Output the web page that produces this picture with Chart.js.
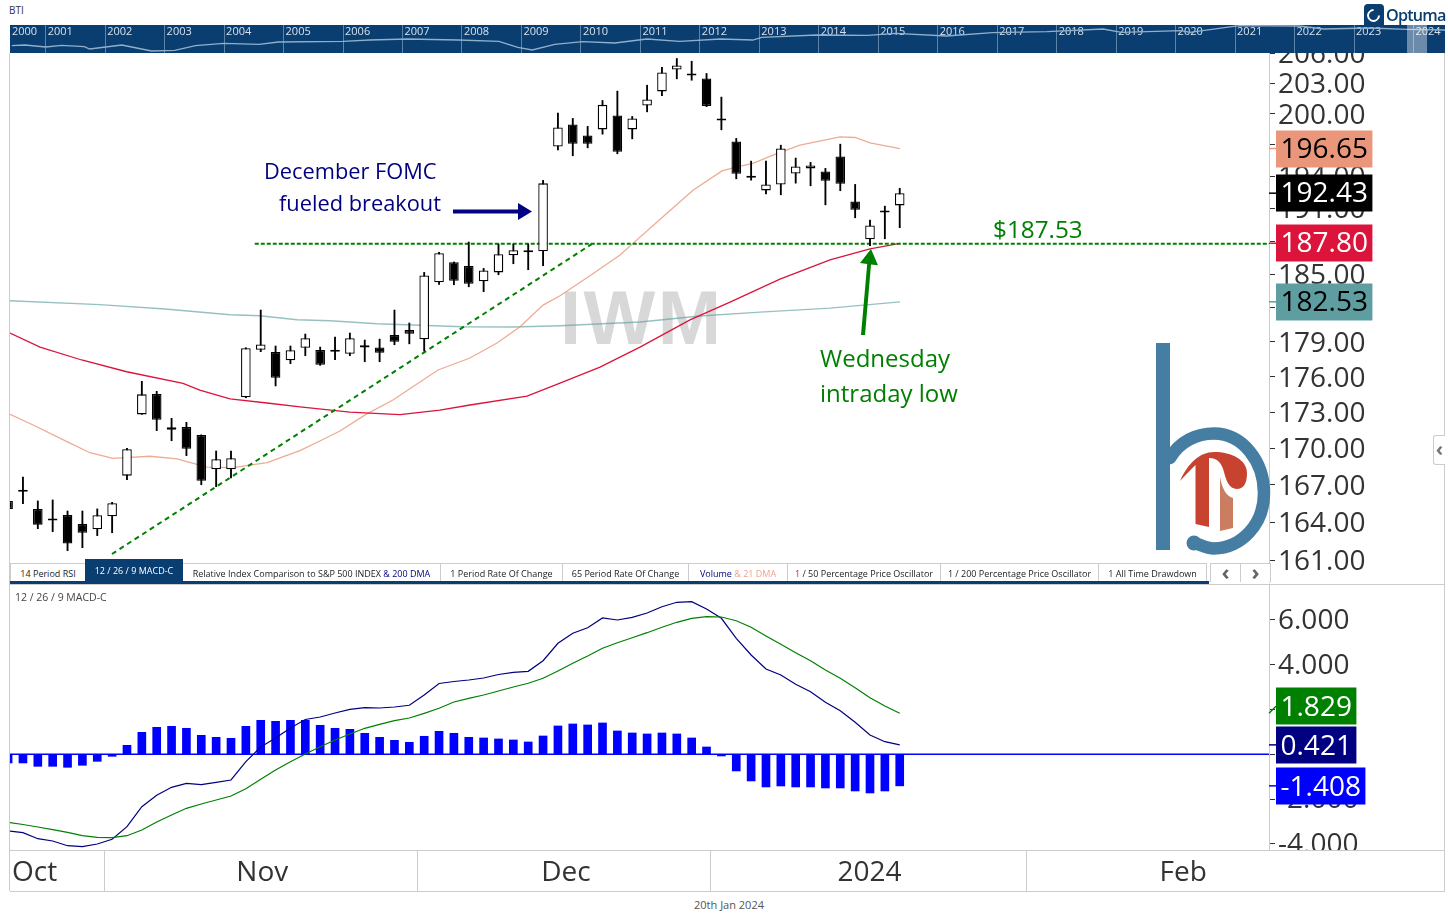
<!DOCTYPE html>
<html>
<head>
<meta charset="utf-8">
<title>BTI</title>
<script src="https://cdn.jsdelivr.net/npm/chart.js@4/dist/chart.umd.min.js"></script>
<style>
    html, body { margin: 0; padding: 0; background: #fff; }
    #page { position: relative; width: 1448px; height: 924px; overflow: hidden; font-family: "Open Sans", sans-serif; color: #333; }
    #page canvas { position: absolute; left: 10px; z-index: 2; }
    .frame { position: absolute; background: #ccc; z-index: 3; }
    .note { position: absolute; line-height: 30px; white-space: nowrap; z-index: 4; }
    #watermark { position: absolute; left: 560px; top: 275px; font: bold 76px "Liberation Sans", sans-serif; letter-spacing: 2.5px; line-height: 86px; color: #d8d8d8; z-index: 1; }
    #tabs div { position: absolute; top: 563px; height: 18px; line-height: 19px; font-size: 9px; text-align: center; white-space: nowrap; color: #222; background: #fff; border: 1px solid #ccc; border-bottom: 0; box-sizing: content-box; z-index: 5; }
    #tabs div.active { top: 559px; height: 24px; line-height: 22px; background: #0a3d70; border-color: #0a3d70; color: #fff; z-index: 6; }
    #tabline { position: absolute; left: 10px; top: 581px; width: 1199px; height: 3px; background: #0a3d70; z-index: 5; }
    #overlay { position: absolute; left: 0; top: 0; z-index: 4; }
</style>
</head>
<body>
<div id="page">
    <div style="position:absolute;left:9px;top:4px;font-size:10px;line-height:13px;">BTI</div>

    <div style="position:absolute;left:10px;top:25px;width:1435px;height:28px;background:#0a3d70;"></div>
    <canvas id="overviewChart" width="1435" height="28" style="top:25px"></canvas>
    <div style="position:absolute;left:1407px;top:25px;width:20px;height:28px;background:rgba(255,255,255,0.4);z-index:3;"></div>

    <div style="position:absolute;left:1364px;top:4px;width:20px;height:21px;border-radius:4px 4px 0 0;background:#0a3d70;z-index:3;">
        <div style="position:absolute;left:3px;top:5px;width:9px;height:9px;border:2.5px solid #fff;border-right-color:transparent;border-radius:50%;transform:rotate(-45deg);"></div>
    </div>
    <div style="position:absolute;left:1386px;top:3px;font-size:16.2px;line-height:24px;font-weight:600;letter-spacing:-0.8px;color:#0a3d70;z-index:3;">Optuma</div>

    <div id="watermark">IWM</div>
    <canvas id="priceChart" width="1435" height="530" style="top:53px"></canvas>

    <div class="note" style="left:264px;top:156px;font-size:21.8px;color:#000080;">December FOMC</div>
    <div class="note" style="left:279px;top:188px;font-size:21.8px;color:#000080;">fueled breakout</div>
    <div class="note" style="left:993px;top:214px;font-size:24.3px;color:#008000;">$187.53</div>
    <div class="note" style="left:820px;top:343px;font-size:24px;color:#008000;">Wednesday</div>
    <div class="note" style="left:820px;top:378px;font-size:24px;color:#008000;">intraday low</div>

    <div id="tabs"></div>
    <div id="tabline"></div>

    <div style="position:absolute;left:15px;top:590px;font-size:10.5px;line-height:14px;color:#444;z-index:3;">12 / 26 / 9 MACD-C</div>
    <canvas id="macdChart" width="1435" height="265" style="top:585px"></canvas>
    <canvas id="dateChart" width="1435" height="41" style="top:851px"></canvas>

    <div class="frame" style="left:9px;top:53px;width:1px;height:838px;"></div>
    <div class="frame" style="left:1444px;top:53px;width:1px;height:838px;"></div>
    <div class="frame" style="left:10px;top:584px;width:1435px;height:1px;"></div>
    <div class="frame" style="left:10px;top:850px;width:1435px;height:1px;"></div>
    <div class="frame" style="left:10px;top:891px;width:1435px;height:1px;"></div>

    <div style="position:absolute;left:1433px;top:435px;width:11px;height:28px;background:#fff;border:1px solid #ccc;border-right:0;border-radius:3px 0 0 3px;font-size:20px;font-weight:700;line-height:25px;text-align:center;color:#777;z-index:4;">‹</div>

    <div style="position:absolute;left:0;width:1458px;top:898px;font-size:11px;line-height:14px;text-align:center;color:#555;">20th Jan 2024</div>

    <svg id="overlay" width="1448" height="924" viewBox="0 0 1448 924">
        <path d="M453 209.5 H518 V203 L532 211.5 L518 220 V213.5 H453 Z" fill="#000080"/>
        <path d="M861 335 L867.2 264 L860 263 L871 249 L878 265.3 L871 264.6 L865 335 Z" fill="#008000"/>
        <rect x="1156" y="343" width="14" height="207" fill="#467da2"/>
        <path d="M1170 458 C1180 441 1197 433.5 1214 433.5 C1243 433.5 1264 462 1264 493 C1264 525 1241 548 1214 548.5 C1205 548.5 1200 544 1194 543" fill="none" stroke="#467da2" stroke-width="12.5" stroke-linecap="round"/>
        <circle cx="1194" cy="543" r="7.5" fill="#467da2"/>
        <path d="M1180 481 C1188 463 1200 452 1214 452 C1232 452 1247 460 1247 473 C1247 484 1243 489 1237 489 C1229 489 1226 480 1224 472 C1222 464 1218 458 1209 458 V527 L1195.5 524 V465 C1190 470 1185 476 1180 481 Z" fill="#c8432f"/>
        <path d="M1220 477 C1222 488 1226 496 1233 498 V528 L1220 531 Z" fill="#cb7d61"/>
    </svg>
</div>

<script>
// daily bars, oldest first
const candleOpen = [165.69,166.50,165.05,164.16,164.56,163.84,163.42,164.46,167.74,172.81,174.53,171.53,171.75,171.09,168.26,168.26,174.25,178.33,178.13,177.41,178.50,178.30,178.22,177.98,178.53,178.53,179.61,180.04,179.23,184.27,186.07,185.73,184.36,185.16,186.70,187.02,187.07,196.85,198.97,197.91,198.49,199.84,198.49,200.81,202.19,204.36,203.76,203.46,199.45,197.33,194.00,192.69,193.25,194.28,194.76,194.47,195.90,191.66,188.16,190.73,191.29];
const candleHigh = [165.90,167.63,165.69,165.77,164.88,164.88,165.05,165.58,169.98,175.61,174.76,172.48,172.14,171.10,169.76,169.76,178.50,181.80,178.65,178.65,179.69,178.56,179.43,179.78,179.17,179.25,181.80,180.66,185.16,186.98,186.10,187.91,185.52,187.73,187.73,187.73,193.63,200.06,199.55,198.78,201.30,202.22,199.74,202.80,204.56,205.45,205.18,203.96,201.63,197.62,195.45,195.45,196.97,195.74,195.33,194.76,197.07,193.25,189.93,191.22,192.89];
const candleLow = [164.90,165.47,163.47,163.23,161.73,161.97,162.92,163.15,167.41,172.81,171.45,170.61,169.38,167.00,166.84,167.55,174.21,178.16,175.22,177.12,177.81,176.98,177.47,177.81,177.29,177.29,178.76,178.84,178.22,184.09,184.05,183.87,183.43,184.95,185.94,185.40,185.76,196.53,195.96,196.72,198.03,196.15,197.58,200.19,201.76,203.43,203.29,200.70,198.45,193.78,193.65,192.37,192.28,193.37,193.12,191.34,192.66,190.14,187.57,188.21,189.23];
const candleClose = [165.05,166.44,163.79,164.12,162.29,163.15,164.54,165.50,169.90,174.50,172.36,171.73,169.95,167.33,169.08,169.16,178.45,178.79,175.91,178.28,179.32,177.03,178.16,179.32,178.71,178.07,179.02,179.72,184.89,186.89,184.41,184.14,185.34,186.80,187.16,186.98,193.35,198.68,197.10,197.10,200.87,196.34,199.55,201.40,204.06,204.76,203.96,200.77,199.35,194.25,193.87,193.25,196.66,194.95,195.04,193.59,193.31,190.88,189.44,190.64,192.43];

// moving averages, read at the bar positions listed next to them
const ma21Bars = [0.13,1.68,3.96,5.51,7.06,9.55,11.37,13.38,15.13,17.42,19.64,20.98,22.33,24.0,25.9,28.93,31.08,32.9,34.45,36.0,37.14,39.03,41.18,42.05,44.07,46.09,48.04,49.05,50.13,51.47,53.29,55.98,56.99,58.0,60.02];
const ma21 = [172.81,171.92,170.53,169.62,169.16,169.33,169.11,168.43,168.39,168.80,169.79,170.59,171.42,172.75,174.02,176.58,177.61,178.91,180.33,182.24,183.07,184.74,186.73,187.79,190.24,192.71,194.53,194.91,195.23,196.02,196.97,197.77,197.71,197.19,196.65];
const ma50Bars = [0.13,2.15,4.95,7.98,11.77,12.9,14.93,17.42,19.64,23.0,26.37,29.06,31.08,34.92,37.14,39.83,42.52,45.89,48.58,51.94,55.31,58.0,60.02];
const ma50 = [179.78,178.56,177.44,176.43,175.44,174.87,174.12,173.77,173.44,173.00,172.79,173.17,173.60,174.36,175.46,176.83,178.56,180.93,182.51,184.56,186.28,187.28,187.80];
const ma200Bars = [0.13,6.18,10.56,14.93,16.95,19.44,21.66,24.82,27.72,30.61,33.98,37.14,42.52,46.56,50.6,55.31,60.02];
const ma200 = [182.63,182.28,181.89,181.39,181.30,180.95,180.86,180.60,180.46,180.33,180.31,180.42,180.75,181.27,181.62,181.97,182.53];

// drawn studies on the price panel
const levelBars = [16.6, 84.85];
const levelPrice = [187.76, 187.76];
const trendBars = [6.99, 39.27];
const trendPrice = [161.47, 187.72];

const priceTicks = [206,203,200,197,194,191,188,185,182,179,176,173,170,167,164,161];
const priceBadgeValues = [182.53, 196.65, 187.80, 192.43];
const priceBadgeFill = ['#5f9ea0', '#e9967a', '#dc143c', '#000000'];
const priceBadgeText = ['#000000', '#000000', '#ffffff', '#ffffff'];

// 12 / 26 / 9 MACD-C, one value per bar
const macdLine = [-3.424,-3.500,-3.768,-3.871,-4.080,-4.125,-4.004,-3.795,-3.232,-2.339,-1.830,-1.473,-1.295,-1.357,-1.250,-1.147,-0.330,0.326,0.728,1.174,1.554,1.665,1.844,2.009,2.080,2.067,2.112,2.188,2.647,3.161,3.250,3.317,3.406,3.563,3.661,3.705,4.179,4.955,5.402,5.652,6.085,5.996,6.116,6.308,6.589,6.786,6.813,6.487,6.071,5.179,4.433,3.808,3.540,3.125,2.795,2.321,1.946,1.429,0.862,0.563,0.421];
const signalLine = [-3.036,-3.134,-3.246,-3.366,-3.482,-3.634,-3.705,-3.723,-3.634,-3.379,-3.022,-2.710,-2.411,-2.219,-2.040,-1.862,-1.536,-1.116,-0.701,-0.330,0.013,0.339,0.638,0.906,1.161,1.339,1.500,1.621,1.830,2.054,2.335,2.500,2.647,2.826,3.004,3.170,3.393,3.719,4.063,4.388,4.732,4.982,5.205,5.429,5.670,5.893,6.071,6.143,6.129,5.964,5.670,5.281,4.911,4.536,4.179,3.763,3.393,2.973,2.527,2.156,1.829];
const macdHist = [-0.387,-0.387,-0.536,-0.536,-0.580,-0.491,-0.313,-0.089,0.402,0.982,1.205,1.250,1.161,0.848,0.759,0.714,1.250,1.518,1.473,1.518,1.518,1.295,1.161,1.116,0.938,0.759,0.625,0.536,0.804,1.027,0.938,0.759,0.729,0.685,0.640,0.550,0.818,1.265,1.354,1.310,1.399,1.042,0.952,0.908,0.952,0.908,0.729,0.327,-0.074,-0.744,-1.190,-1.458,-1.414,-1.458,-1.458,-1.503,-1.503,-1.637,-1.726,-1.637,-1.408];

const macdTicks = [6,4,2,0,-2,-4];
const macdBadgeValues = [1.829, 0.421, -1.408];
const macdBadgeFill = ['#008000', '#000080', '#0000ff'];
const macdBadgeNudge = [-7, 0, 0];

// date axis, in bar units
const monthLabels = ['Oct','Nov','Dec','2024','Feb'];
const monthCenters = [1.68, 17.02, 37.48, 57.93, 79.06];
const monthStarts = [6.39, 27.45, 47.23, 68.5];

// long term strip across the top
const overviewYears = [2000.41,2000.65,2001,2001.27,2001.65,2001.74,2002.28,2002.78,2003.17,2003.52,2003.99,2004.59,2004.91,2006,2006.45,2007.08,2007.94,2008.62,2008.94,2009.18,2009.56,2010.03,2010.57,2011.11,2011.66,2012.35,2012.89,2013.04,2013.96,2014.82,2015.29,2016.15,2016.92,2017.84,2018.78,2019.09,2020.09,2020.24,2021.07,2022.08,2022.49,2023.27,2023.89,2024.53];
const overviewLevel = [7.3,8,6,7.7,6.3,4,8,2,2.7,7.3,9.7,8.7,11,11.7,13,14,13,11.7,5.7,3,8.7,11.3,10,14,11.7,14,13,15.7,18,17.7,19.7,17,20.3,21.3,24,20.7,22.3,20.7,27.3,27,24,25,23.7,23];
const overviewTicks = [2000.4,2001,2002,2003,2004,2005,2006,2007,2008,2009,2010,2011,2012,2013,2014,2015,2016,2017,2018,2019,2020,2021,2022,2023,2024];

// tab strip
const tabLabels = ['14 Period RSI','12 / 26 / 9 MACD-C','Relative Index Comparison to S&amp;P 500 INDEX <span style="color:#000080">&amp; 200 DMA</span>','1 Period Rate Of Change','65 Period Rate Of Change','<span style="color:#000080">Volume</span> <span style="color:#f4a08a">&amp; 21 DMA</span>','<span style="color:#dc143c">1</span> / 50 Percentage Price Oscillator','1 / 200 Percentage Price Oscillator','1 All Time Drawdown'];
const tabEdges = [10,85,182,440,562,688,787,940,1098,1206];

const FONT = '"Open Sans", sans-serif';
const BAR_MIN = 0.128;
const BAR_MAX_PLOT = 84.85;
const BAR_MAX_FULL = 96.7;

Chart.defaults.animation = false;
Chart.defaults.responsive = false;
Chart.defaults.maintainAspectRatio = false;
Chart.defaults.devicePixelRatio = 1;
Chart.defaults.events = [];
Chart.defaults.plugins.legend.display = false;
Chart.defaults.plugins.tooltip.enabled = false;
Chart.defaults.font.family = FONT;

// the coloured last-value boxes on the right axis
const valueBadges = {
    id: 'valueBadges',
    afterDraw(chart, args, opts) {
        const ctx = chart.ctx;
        const scale = chart.scales.y;
        const axisX = chart.chartArea.right;
        ctx.save();
        ctx.font = '28px ' + FONT;
        ctx.textBaseline = 'middle';
        ctx.textAlign = 'left';
        opts.values.forEach((value, i) => {
            const y = scale.getPixelForValue(value);
            const boxY = y + (opts.nudge ? opts.nudge[i] : 0);
            const label = value.toFixed(opts.digits);
            const width = ctx.measureText(label).width + 9;
            ctx.strokeStyle = opts.fill[i];
            ctx.lineWidth = 1.5;
            ctx.beginPath();
            ctx.moveTo(axisX, y);
            ctx.lineTo(axisX + 7, boxY);
            ctx.stroke();
            ctx.fillStyle = opts.fill[i];
            ctx.fillRect(axisX + 7, Math.round(boxY) - 18.5, width, 37);
            ctx.fillStyle = opts.text ? opts.text[i] : '#ffffff';
            ctx.fillText(label, axisX + 11.5, Math.round(boxY) + opts.textDrop);
        });
        ctx.restore();
    }
};

function toPoints(bars, values) {
    return bars.map((bar, i) => ({ x: bar, y: values[i] }));
}

function lineSet(data, color, width, order, dash) {
    return {
        type: 'line',
        data: data,
        borderColor: color,
        borderWidth: width,
        borderDash: dash || [],
        pointRadius: 0,
        tension: 0,
        order: order
    };
}

function barX(max) {
    return { type: 'linear', min: BAR_MIN, max: max, display: false, offset: false };
}

function rightAxis(ticks, digits, labelDrop) {
    return {
        position: 'right',
        afterBuildTicks: scale => { scale.ticks = ticks.map(value => ({ value: value })); },
        afterFit: scale => { scale.width = 176; scale.paddingTop = 0; scale.paddingBottom = 0; },
        grid: { drawOnChartArea: false, tickLength: 6, tickColor: '#333', tickWidth: 1 },
        border: { color: '#ccc', width: 1 },
        ticks: {
            autoSkip: false,
            padding: 3,
            labelOffset: labelDrop,
            color: '#333',
            font: { size: 28 },
            callback: value => value.toFixed(digits)
        }
    };
}

const candleBars = candleOpen.map((open, i) => i);

new Chart(document.getElementById('priceChart'), {
    type: 'bar',
    data: {
        datasets: [
            lineSet(toPoints(ma200Bars, ma200), 'rgba(95,158,160,0.65)', 1.4, 9),
            lineSet(toPoints(ma21Bars, ma21), 'rgba(233,150,122,0.8)', 1.3, 8),
            lineSet(toPoints(ma50Bars, ma50), '#dc143c', 1.3, 7),
            lineSet(toPoints(trendBars, trendPrice), '#008000', 2, 6, [5, 4]),
            lineSet(toPoints(levelBars, levelPrice), '#008000', 2, 6, [4, 2]),
            {
                data: candleBars.map(i => ({ x: i, y: [candleLow[i], candleHigh[i]] })),
                backgroundColor: '#000',
                barThickness: 1.2,
                grouped: false,
                order: 5
            },
            {
                data: candleBars.map(i => ({ x: i, y: [candleOpen[i], candleClose[i]] })),
                backgroundColor: candleBars.map(i => candleClose[i] >= candleOpen[i] ? '#fff' : '#000'),
                borderColor: '#000',
                borderWidth: 1.3,
                borderSkipped: false,
                inflateAmount: 0,
                minBarLength: 2,
                barThickness: 9.6,
                grouped: false,
                order: 4
            }
        ]
    },
    options: {
        layout: { padding: 0 },
        scales: {
            x: barX(BAR_MAX_PLOT),
            y: Object.assign(rightAxis(priceTicks, 2, 2), { type: 'logarithmic', min: 159.21, max: 206, bounds: 'data' })
        },
        plugins: {
            valueBadges: { values: priceBadgeValues, fill: priceBadgeFill, text: priceBadgeText, digits: 2, textDrop: 1 }
        }
    },
    plugins: [valueBadges]
});

new Chart(document.getElementById('macdChart'), {
    type: 'bar',
    data: {
        datasets: [
            lineSet(toPoints(candleBars, signalLine), '#008000', 1.2, 1),
            lineSet(toPoints(candleBars, macdLine), '#000080', 1.2, 1),
            {
                data: candleBars.map(i => ({ x: i, y: macdHist[i] })),
                backgroundColor: '#0000ff',
                barThickness: 8,
                grouped: false,
                order: 3
            },
            lineSet(toPoints([BAR_MIN, BAR_MAX_PLOT], [0, 0]), '#0000ff', 1.5, 2)
        ]
    },
    options: {
        layout: { padding: 0 },
        scales: {
            x: barX(BAR_MAX_PLOT),
            y: Object.assign(rightAxis(macdTicks, 3, 1), { type: 'linear', min: -4.272, max: 7.558 })
        },
        plugins: {
            valueBadges: { values: macdBadgeValues, fill: macdBadgeFill, nudge: macdBadgeNudge, digits: 3, textDrop: 2.5 }
        }
    },
    plugins: [valueBadges]
});

// ticks.mirror keeps the labels from being clipped to the zero height axis box
new Chart(document.getElementById('dateChart'), {
    type: 'line',
    data: { datasets: [] },
    options: {
        layout: { padding: 0 },
        scales: {
            x: {
                type: 'linear',
                position: 'bottom',
                min: BAR_MIN,
                max: BAR_MAX_FULL,
                afterBuildTicks: scale => {
                    scale.ticks = monthCenters.concat(monthStarts).sort((a, b) => a - b).map(value => ({ value: value }));
                },
                afterFit: scale => { scale.height = 0; },
                grid: {
                    drawTicks: false,
                    color: ctx => monthStarts.includes(ctx.tick.value) ? '#ccc' : 'transparent'
                },
                border: { display: false },
                ticks: {
                    autoSkip: false,
                    maxRotation: 0,
                    mirror: true,
                    padding: 2,
                    color: '#333',
                    font: { size: 28 },
                    callback: value => {
                        const k = monthCenters.indexOf(value);
                        return k < 0 ? '' : monthLabels[k];
                    }
                }
            },
            y: { display: false, min: 0, max: 1 }
        }
    }
});

new Chart(document.getElementById('overviewChart'), {
    type: 'line',
    data: {
        datasets: [lineSet(toPoints(overviewYears, overviewLevel), '#8fb0cc', 1.3, 1)]
    },
    options: {
        layout: { padding: 0 },
        scales: {
            x: {
                type: 'linear',
                position: 'top',
                min: 2000.43,
                max: 2024.53,
                afterBuildTicks: scale => { scale.ticks = overviewTicks.map(value => ({ value: value })); },
                afterFit: scale => { scale.height = 0; },
                grid: {
                    drawTicks: false,
                    color: ctx => Number.isInteger(ctx.tick.value) ? '#5d83a8' : 'transparent'
                },
                border: { display: false },
                ticks: {
                    autoSkip: false,
                    maxRotation: 0,
                    align: 'start',
                    mirror: true,
                    labelOffset: 2,
                    padding: 0,
                    color: '#d8e2ec',
                    font: { size: 11 },
                    callback: value => String(Math.floor(value))
                }
            },
            y: { display: false, min: 0, max: 28 }
        }
    }
});

// tab strip is plain html
const tabs = document.getElementById('tabs');
tabLabels.forEach((label, i) => {
    const tab = document.createElement('div');
    tab.style.left = tabEdges[i] + 'px';
    tab.style.width = (tabEdges[i + 1] - tabEdges[i] - 1) + 'px';
    tab.innerHTML = label;
    if (i === 1) {
        tab.className = 'active';
    }
    tabs.appendChild(tab);
});
['‹', '›'].forEach((arrow, i) => {
    const tab = document.createElement('div');
    tab.style.left = (1210 + i * 30) + 'px';
    tab.style.width = '29px';
    tab.style.fontSize = '22px';
    tab.style.lineHeight = '15px';
    tab.style.fontWeight = '700';
    tab.style.color = '#666';
    tab.textContent = arrow;
    tabs.appendChild(tab);
});
</script>
</body>
</html>
